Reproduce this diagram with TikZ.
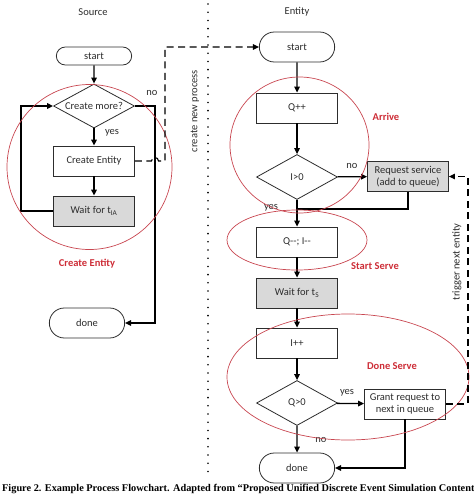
\documentclass[tikz,border=0pt]{standalone}
\usepackage{fontspec}
\setmainfont{Carlito}
\newfontfamily\capfont{Liberation Serif}
\usepackage{tikz}
\usetikzlibrary{
  arrows.meta,
  positioning,
  shapes.geometric,
  shapes.misc
}
\definecolor{inkgray}{RGB}{45,45,45}
\definecolor{waitgray}{RGB}{217,217,217}
\definecolor{phasered}{RGB}{205,45,55}
\definecolor{ringred}{RGB}{200,70,80}

\begin{document}
\begin{tikzpicture}[x=1pt, y=-1pt, font=\fontsize{10.5}{12}\selectfont,
            stepbox/.style={rectangle, draw=inkgray, fill=white, text=inkgray, line width=0.8pt, minimum width=81pt, minimum height=30pt, align=center, inner sep=1pt},
            waitbox/.style={stepbox, fill=waitgray},
            decision/.style={diamond, draw=inkgray, fill=white, text=inkgray, line width=0.8pt, minimum width=81pt, minimum height=44pt, aspect=1.8, inner sep=0pt},
            terminal/.style={rounded rectangle, draw=inkgray, fill=white, text=inkgray, line width=0.8pt, minimum width=82pt, minimum height=30pt},
            flow/.style={-{Triangle[length=6pt,width=5.5pt]}, line width=1.3pt, draw=black},
            plain/.style={line width=1.3pt, draw=black},
            signal/.style={-{Triangle[length=6pt,width=5.5pt]}, line width=1.1pt, dash pattern=on 7pt off 4.5pt},
            phase/.style={draw=ringred, line width=0.7pt},
            phaselbl/.style={text=phasered, font=\fontsize{10.5}{12}\selectfont\bfseries},
            tag/.style={text=inkgray, inner sep=1pt}]
  \useasboundingbox (0,0) rectangle (474,496);

  % lane separator and headings
  \draw[line width=1.8pt, line cap=round, dash pattern=on 0pt off 8.2pt] (208,4) -- (208,478);
  \node[tag] (srchead) at (93,12) {Source};
  \node[tag] (enthead) at (297,12) {Entity};

  % source process
  \node[terminal, minimum height=18pt] (s_start) at (94,56) {start};
  \node[decision] (s_more) at (94,106) {Create more?};
  \node[stepbox] (s_create) at (94,161) {Create Entity};
  \node[waitbox] (s_wait) at (94,211) {Wait for t\textsubscript{IA}};
  \node[terminal] (s_done) at (87,323) {done};

  \draw[flow] (s_start) -- (s_more);
  \draw[flow] (s_more) -- (s_create);
  \draw[flow] (s_create) -- (s_wait);
  \draw[flow, line width=1.7pt] (s_wait.west) -- (21,211) |- (s_more.west);
  \draw[flow, line width=1.7pt] (s_more.east) -- (155,106) |- (s_done.east);
  \node[tag] (s_yes) at (112,133) {yes};
  \node[tag] (s_no) at (152,93) {no};

  \draw[phase] (89.5,167) circle [radius=82.5];
  \node[phaselbl] (s_phase) at (87,264) {Create Entity};

  % entity process
  \node[terminal] (e_start) at (297,47) {start};
  \node[stepbox] (e_qinc) at (297,108) {Q++};
  \node[decision, minimum height=45pt] (e_idle) at (297,177) {I>0};
  \node[waitbox] (e_req) at (408,176.5) {Request service\\(add to queue)};
  \node[stepbox] (e_serve) at (297,242) {Q-{}-; I-{}-};
  \node[waitbox] (e_wait) at (297,293) {Wait for t\textsubscript{S}};
  \node[stepbox] (e_iinc) at (297,343) {I++};
  \node[decision, minimum height=45pt] (e_qchk) at (297,403) {Q>0};
  \node[stepbox] (e_grant) at (405,404) {Grant request to\\next in queue};
  \node[terminal] (e_done) at (297,468) {done};

  \draw[flow] (e_start) -- (e_qinc);
  \draw[flow] (e_qinc) -- (e_idle);
  \draw[flow] (e_idle) -- (e_serve);
  \draw[flow] (e_idle) -- (e_req);
  \draw[plain] (e_req.south) |- (297,209);
  \draw[flow] (e_serve) -- (e_wait);
  \draw[flow] (e_wait) -- (e_iinc);
  \draw[flow] (e_iinc) -- (e_qchk);
  \draw[flow] (e_qchk) -- (e_grant);
  \draw[flow] (e_qchk) -- (e_done);
  \draw[flow] (e_grant.south) |- (e_done.east);
  \node[tag] (e_yes1) at (271,208) {yes};
  \node[tag] (e_no1) at (352,166) {no};
  \node[tag] (e_yes2) at (347,393) {yes};
  \node[tag] (e_no2) at (321,440) {no};

  \draw[phase] (299.5,145) ellipse [x radius=69.5, y radius=68];
  \draw[phase] (297,240) ellipse [x radius=70, y radius=30];
  \draw[phase] (348,377) ellipse [x radius=121, y radius=63];
  \node[phaselbl] (e_arrive) at (386,117) {Arrive};
  \node[phaselbl] (e_startsv) at (375,266) {Start Serve};
  \node[phaselbl] (e_donesv) at (392,366) {Done Serve};

  % signals between processes
  \coordinate (hop) at (155,161);
  \draw[signal] (s_create.east) -- ([xshift=-3.5pt]hop) arc [start angle=180, end angle=360, radius=3.5] -- (165,161) |- (e_start.west);
  \node[tag, rotate=90] (newproc) at (195,111) {create new process};
  \draw[signal] (e_grant.east) -- (468,404) |- (e_req.east);
  \node[tag, rotate=90] (trigger) at (457,262) {trigger next entity};

  % caption
  \node[anchor=west, inner sep=0pt, font=\capfont\bfseries\fontsize{10.3}{12}\selectfont] (caption) at (2,489) {Figure 2. Example Process Flowchart. Adapted from “Proposed Unified Discrete Event Simulation Content};
\end{tikzpicture}
\end{document}
